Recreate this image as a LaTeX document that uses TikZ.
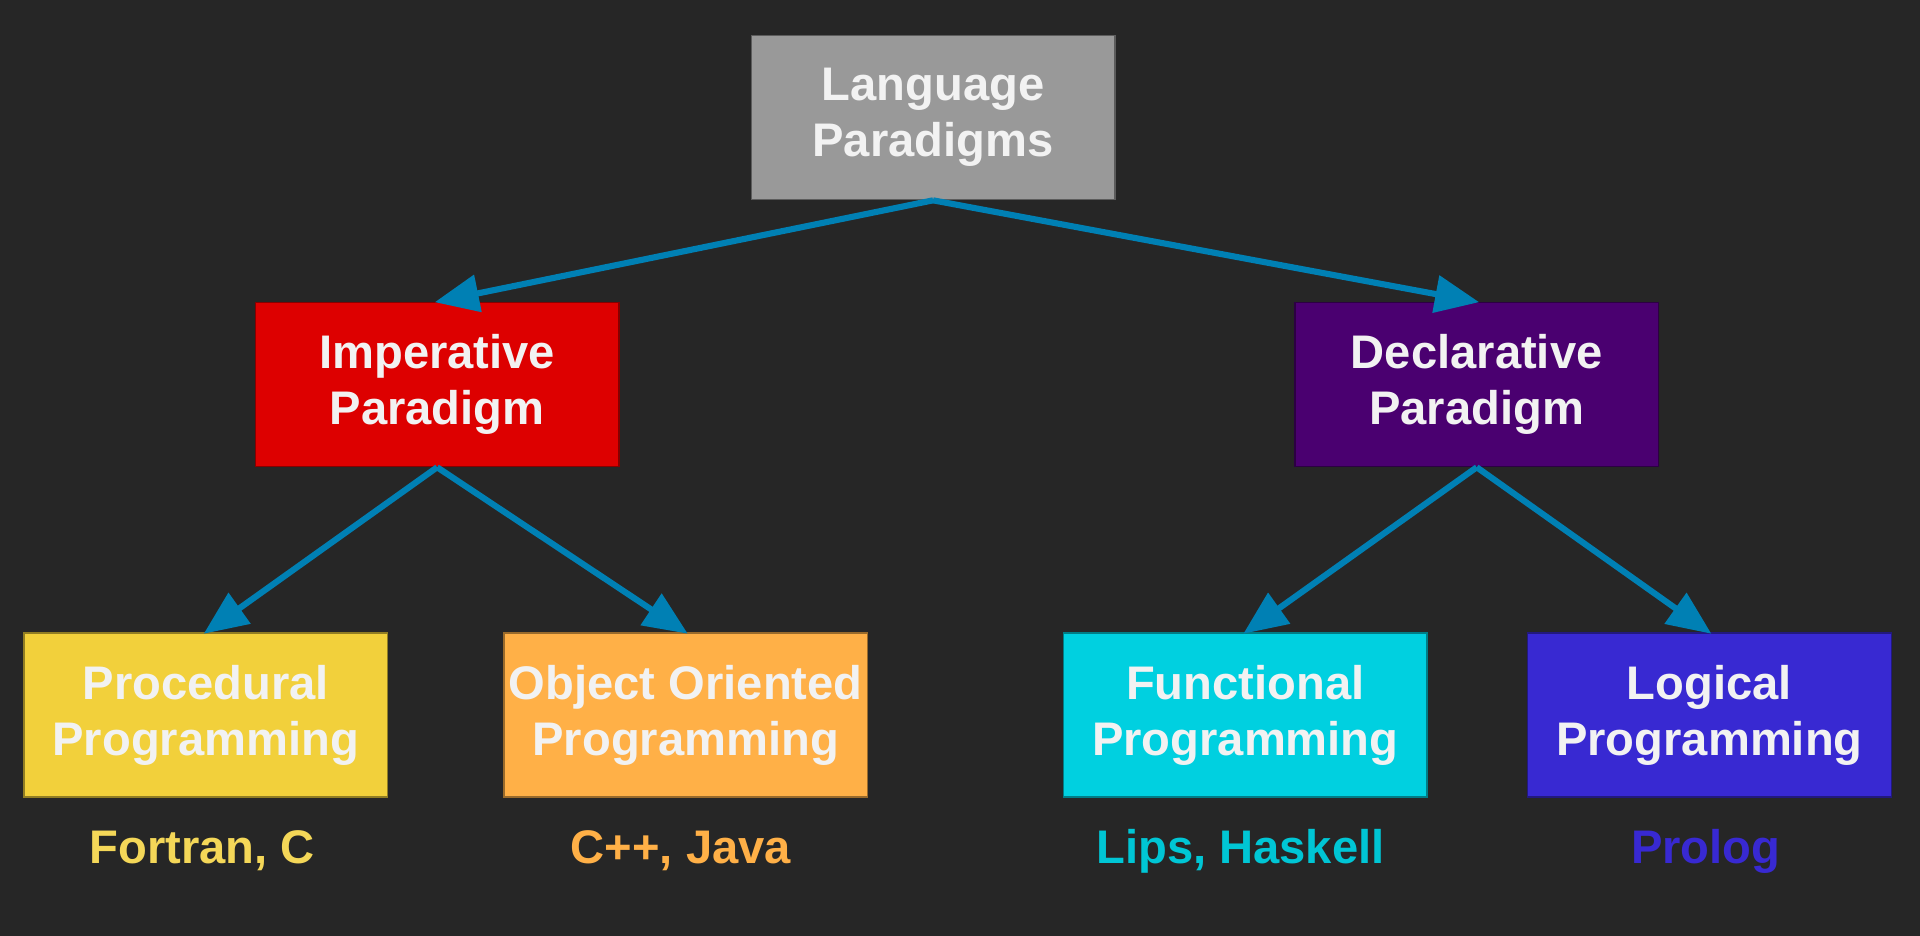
\documentclass[tikz,border=0pt]{standalone}
\usepackage{fontspec}
\setmainfont{Liberation Sans}
\usetikzlibrary{arrows.meta}
\definecolor{bg}{HTML}{262626}
\definecolor{edge}{HTML}{0080B4}
\definecolor{txt}{HTML}{F2F2F2}
\begin{document}
\begin{tikzpicture}[x=1pt,y=-1pt,
  box/.style={draw=#1!60!black,line width=1.2pt,fill=#1,minimum width=297pt,minimum height=134pt,inner sep=0pt,
    align=center,text=txt,font=\fontsize{38.5}{46}\selectfont\bfseries},
  lab/.style={text=#1,font=\fontsize{38.5}{44}\selectfont\bfseries},
  arr/.style={draw=edge,line width=5pt,-{Triangle[length=36pt,width=30pt]},shorten >=-2pt}]
\fill[bg] (0,0) rectangle (1568,764);
\definecolor{cTop}{HTML}{999999}
\definecolor{cImp}{HTML}{DD0000}
\definecolor{cDec}{HTML}{4A0070}
\definecolor{cPro}{HTML}{F2D03B}
\definecolor{cOO}{HTML}{FFB047}
\definecolor{cFun}{HTML}{00D0E0}
\definecolor{cLog}{HTML}{3829D2}
\node[box=cTop] (top) at (762,96) {Language\\Paradigms};
\node[box=cImp] (imp) at (357,314) {Imperative\\Paradigm};
\node[box=cDec] (dec) at (1206,314) {Declarative\\Paradigm};
\node[box=cPro] (pro) at (168,584) {Procedural\\Programming};
\node[box=cOO] (oo) at (560,584) {Object Oriented\\Programming};
\node[box=cFun] (fun) at (1017,584) {Functional\\Programming};
\node[box=cLog] (log) at (1396,584) {Logical\\Programming};
\node[lab=cPro!85!white] (l1) at (165,695) {Fortran, C};
\node[lab=cOO] (l2) at (556,695) {C++, Java};
\node[lab=cFun!95!black] (l3) at (1013,695) {Lips, Haskell};
\node[lab=cLog] (l4) at (1393,695) {Prolog};
\draw[arr] (top.south) -- (imp.north);
\draw[arr] (top.south) -- (dec.north);
\draw[arr] (imp.south) -- (pro.north);
\draw[arr] (imp.south) -- (oo.north);
\draw[arr] (dec.south) -- (fun.north);
\draw[arr] (dec.south) -- (log.north);
\end{tikzpicture}
\end{document}
